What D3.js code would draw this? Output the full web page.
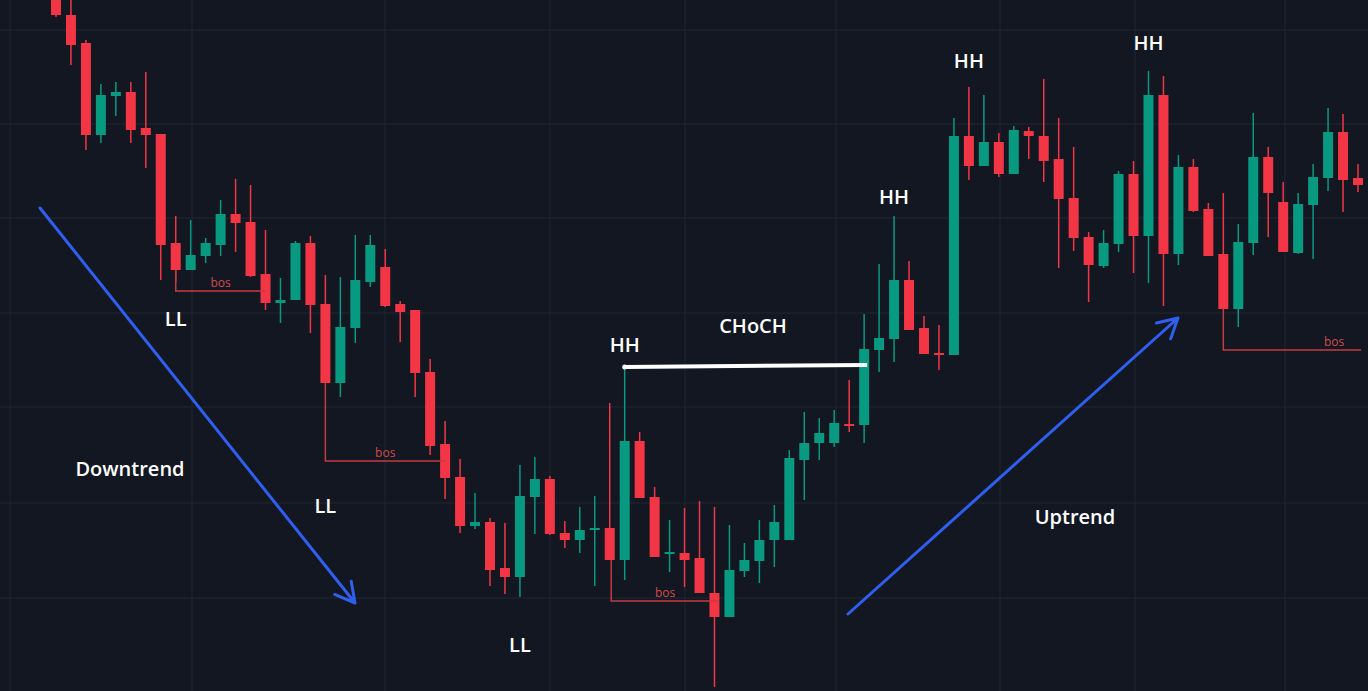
<!DOCTYPE html>
<html>
<head>
<meta charset="utf-8">
<script src="https://cdn.jsdelivr.net/npm/d3@7"></script>
<style>
  body { margin: 0; background: #131722; overflow: hidden; }
  svg { display: block; }
</style>
</head>
<body>
<svg id="chart" width="1368" height="691"></svg>
<script>
// candle values (price units, bigger = higher)
var opens  = [705,685,657,565,604,608,572,566,457,430,444,455,486,478,426,397,400,457,396,317,372,418,433,396,390,328,256,223,174,178,132,123,203,221,167,160,171,172,
              140,259,203,146,147,142,107,83,129,139,160,160,240,257,257,276,275,350,361,420,372,347,345,564,534,558,526,569,564,
              541,502,463,434,456,526,464,605,446,533,491,446,391,457,543,498,447,495,522,568,522];
var closes = [685,655,565,605,608,570,565,455,430,445,457,486,477,424,397,400,457,395,317,373,420,455,394,388,327,254,222,174,178,130,123,204,221,166,160,170,172,140,
              259,202,143,148,140,107,83,130,140,160,178,242,257,267,277,274,351,362,420,370,346,345,564,534,558,526,570,564,539,
              501,462,435,457,526,464,605,446,533,489,444,391,458,543,507,448,496,523,568,520,515];
var highs  = [710,700,660,616,618,618,628,566,484,480,462,500,521,515,470,422,459,464,425,423,465,465,451,399,390,341,279,241,207,182,177,235,243,224,179,193,204,297,
              333,268,213,180,192,199,193,175,157,180,195,250,288,282,290,320,386,436,484,439,384,375,582,613,605,567,574,573,621,
              582,553,468,470,529,539,629,624,545,541,497,507,476,587,553,518,507,536,592,586,536];
var lows   = [683,635,550,557,584,557,532,420,418,430,437,444,448,423,390,377,400,367,317,303,357,413,393,358,303,245,201,167,171,114,106,103,166,165,152,147,114,140,
              120,202,143,128,113,107,13,83,123,117,133,160,200,240,253,268,257,328,338,370,346,330,345,520,534,523,526,541,518,
              432,449,398,432,448,427,417,394,435,488,444,391,373,445,463,448,446,441,509,488,508];

// gridlines
var gridX = [10,192,385,550,685,836,1000,1135,1285];
var gridPrices = [670,576,482,387,293,197,102,8];

// swing labels: [candle index, price, text]
var swingLabels = [
  [8, 381, "LL"], [18, 194, "LL"], [31, 55, "LL"],
  [38, 355, "HH"], [56, 503, "HH"], [61, 639, "HH"], [73, 657, "HH"]
];
// break of structure: [from index, level price, to index]
var bosLines = [
  [8, 409, 14], [18, 239, 26], [37.1, 99, 44.3], [78, 350, 87.2]
];
var trendTexts = [["Downtrend", 130, 231], ["Uptrend", 1075, 183]];
var arrows = [[40, 492, 355, 97], [848, 86, 1178, 382]];

var width = 1368, height = 691;
var svg = d3.select("#chart");

var x = d3.scaleLinear().domain([0, opens.length - 1]).range([56, 1358]);
var y = d3.scaleLinear().domain([0, 700]).range([700, 0]);

var up = "#089981", down = "#f23645";

// grid
svg.append("g").selectAll("line").data(gridX).join("line")
  .attr("x1", d => d).attr("x2", d => d).attr("y1", 0).attr("y2", height)
  .attr("stroke", "#232735").attr("stroke-width", 1);
svg.append("g").selectAll("line").data(gridPrices).join("line")
  .attr("y1", d => y(d)).attr("y2", d => y(d)).attr("x1", 0).attr("x2", width)
  .attr("stroke", "#232735").attr("stroke-width", 1);

// candles
var candles = opens.map((o, i) => ({i: i, o: o, c: closes[i], h: highs[i], l: lows[i]}));
var g = svg.append("g");
g.selectAll("line.wick").data(candles).join("line")
  .attr("class", "wick")
  .attr("x1", d => x(d.i)).attr("x2", d => x(d.i))
  .attr("y1", d => y(d.h)).attr("y2", d => y(d.l))
  .attr("stroke", d => d.c >= d.o ? up : down).attr("stroke-width", 1.5);
g.selectAll("rect").data(candles).join("rect")
  .attr("x", d => x(d.i) - 5)
  .attr("width", 10)
  .attr("y", d => y(Math.max(d.o, d.c)))
  .attr("height", d => Math.max(2, Math.abs(y(d.o) - y(d.c))))
  .attr("fill", d => d.c >= d.o ? up : down);

// bos lines
bosLines.forEach(b => {
  var x0 = x(b[0]), x1 = x(b[2]), yy = y(b[1]);
  var c0 = candles[Math.round(b[0])];
  svg.append("path")
    .attr("d", `M${x0},${y(Math.min(c0.o, c0.c))}V${yy}H${x1}`)
    .attr("fill", "none").attr("stroke", "#c43c40").attr("stroke-width", 1.5);
  svg.append("text").attr("x", (x0 + x1) / 2 + (b[0] === 78 ? 42 : 0)).attr("y", yy - 4)
    .attr("text-anchor", "middle").attr("fill", "#d24a4a")
    .attr("font-family", "Open Sans").attr("font-size", 12).text("bos");
});

// CHoCH line
svg.append("line")
  .attr("x1", x(38)).attr("x2", x(54.2)).attr("y1", y(333)).attr("y2", y(335))
  .attr("stroke", "#ffffff").attr("stroke-width", 4);
svg.append("circle").attr("cx", x(38)).attr("cy", y(333)).attr("r", 2.5).attr("fill", "#ffffff");
svg.append("text").attr("x", 753).attr("y", y(374) + 7)
  .attr("text-anchor", "middle").attr("fill", "#ffffff")
  .attr("font-family", "Open Sans").attr("font-weight", 600).attr("font-size", 20).text("CHoCH");

// swing labels
svg.append("g").selectAll("text").data(swingLabels).join("text")
  .attr("x", d => x(d[0])).attr("y", d => y(d[1]) + 7)
  .attr("text-anchor", "middle").attr("fill", "#ffffff")
  .attr("font-family", "Open Sans").attr("font-weight", 600).attr("font-size", 20)
  .text(d => d[2]);

svg.append("g").selectAll("text").data(trendTexts).join("text")
  .attr("x", d => d[1]).attr("y", d => y(d[2]) + 7)
  .attr("text-anchor", "middle").attr("fill", "#ffffff")
  .attr("font-family", "Open Sans").attr("font-weight", 600).attr("font-size", 20)
  .text(d => d[0]);

// trend arrows
arrows.forEach(a => {
  var x0 = a[0], y0 = y(a[1]), x1 = a[2], y1 = y(a[3]);
  var ang = Math.atan2(y1 - y0, x1 - x0), len = 22;
  var p1 = [x1 - len * Math.cos(ang - 0.5), y1 - len * Math.sin(ang - 0.5)];
  var p2 = [x1 - len * Math.cos(ang + 0.5), y1 - len * Math.sin(ang + 0.5)];
  svg.append("path")
    .attr("d", `M${x0},${y0}L${x1},${y1}M${p1}L${x1},${y1}L${p2}`)
    .attr("fill", "none").attr("stroke", "#2f5ff0").attr("stroke-width", 3)
    .attr("stroke-linecap", "round").attr("stroke-linejoin", "round");
});
</script>
</body>
</html>
